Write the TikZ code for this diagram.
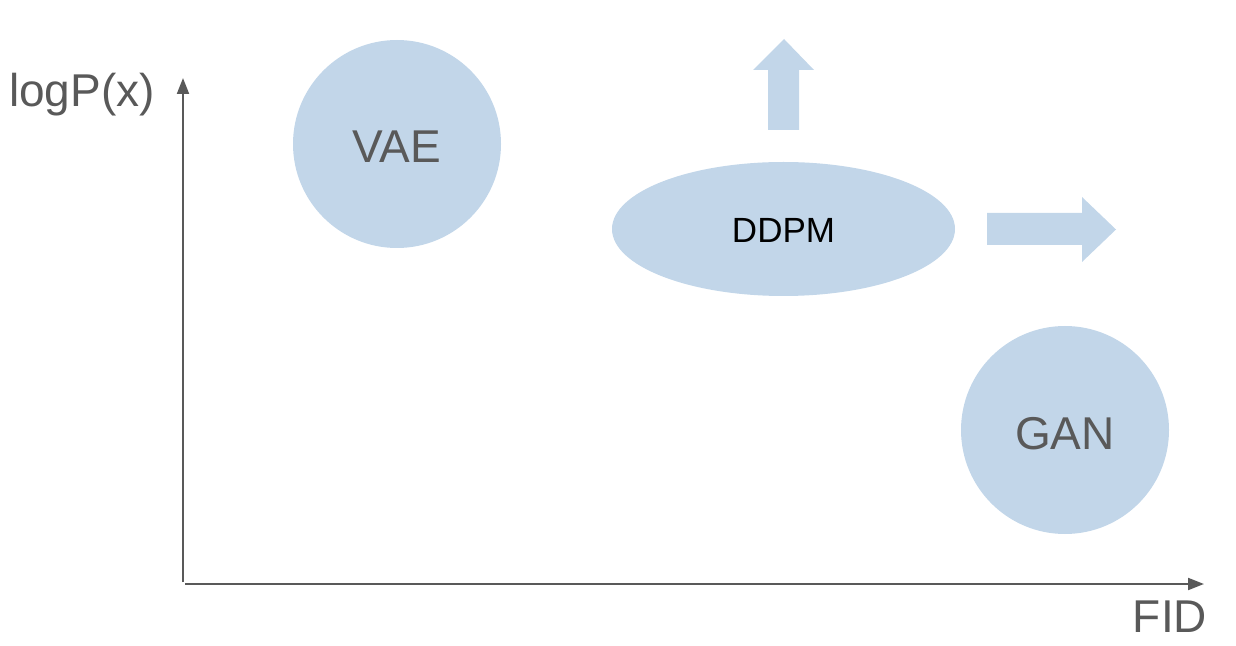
\documentclass[tikz,border=0pt]{standalone}
\usepackage{fontspec}
\setmainfont{Liberation Sans}
\usetikzlibrary{shapes.geometric, arrows.meta}
\definecolor{blobfill}{HTML}{C2D6E9}
\definecolor{inkgray}{HTML}{595959}

\begin{document}
\begin{tikzpicture}[x=0.5pt,y=-0.5pt,
  axis/.style={draw=inkgray,line width=1pt,-{Triangle[length=8pt,width=6pt]}},
  biglab/.style={text=inkgray,font=\fontsize{23}{27}\selectfont,inner sep=0pt},
  blob/.style={fill=blobfill,draw=none,inner sep=0pt},
  model/.style={blob,shape=circle,minimum size=104pt,text=inkgray,
    font=\fontsize{23}{27}\selectfont,text height=19pt,text depth=0pt},
  blockarrow/.style={fill=blobfill,draw=none}]
  \useasboundingbox (0,0) rectangle (1236,646);
  % axes
  \coordinate (o1) at (183,582); \coordinate (ytip) at (183,78);
  \coordinate (o2) at (185,584); \coordinate (xtip) at (1204,584);
  \draw[axis] (o1) -- (ytip);
  \draw[axis] (o2) -- (xtip);
  \path (82,107) node[biglab,anchor=base] (ylab) {logP(x)}
        (1170,632) node[biglab,anchor=base] (xlab) {FID};
  % models
  \node[model] (vae) at (397,144) {VAE};
  \node[model] (gan) at (1065,430) {GAN};
  \node[blob,shape=ellipse,minimum width=171.5pt,minimum height=67pt,
    font=\fontsize{17.5}{21}\selectfont,text height=14pt,text depth=0pt] (ddpm) at (783.5,229) {DDPM};
  % block arrows
  \fill[blockarrow] (768,130) -- (768,70) -- (753,70) -- (784,39) -- (814,70)
    -- (799,70) -- (799,130) -- cycle;
  \fill[blockarrow] (987,213) -- (1082,213) -- (1082,197) -- (1116,229.5)
    -- (1082,262) -- (1082,245) -- (987,245) -- cycle;
\end{tikzpicture}
\end{document}
